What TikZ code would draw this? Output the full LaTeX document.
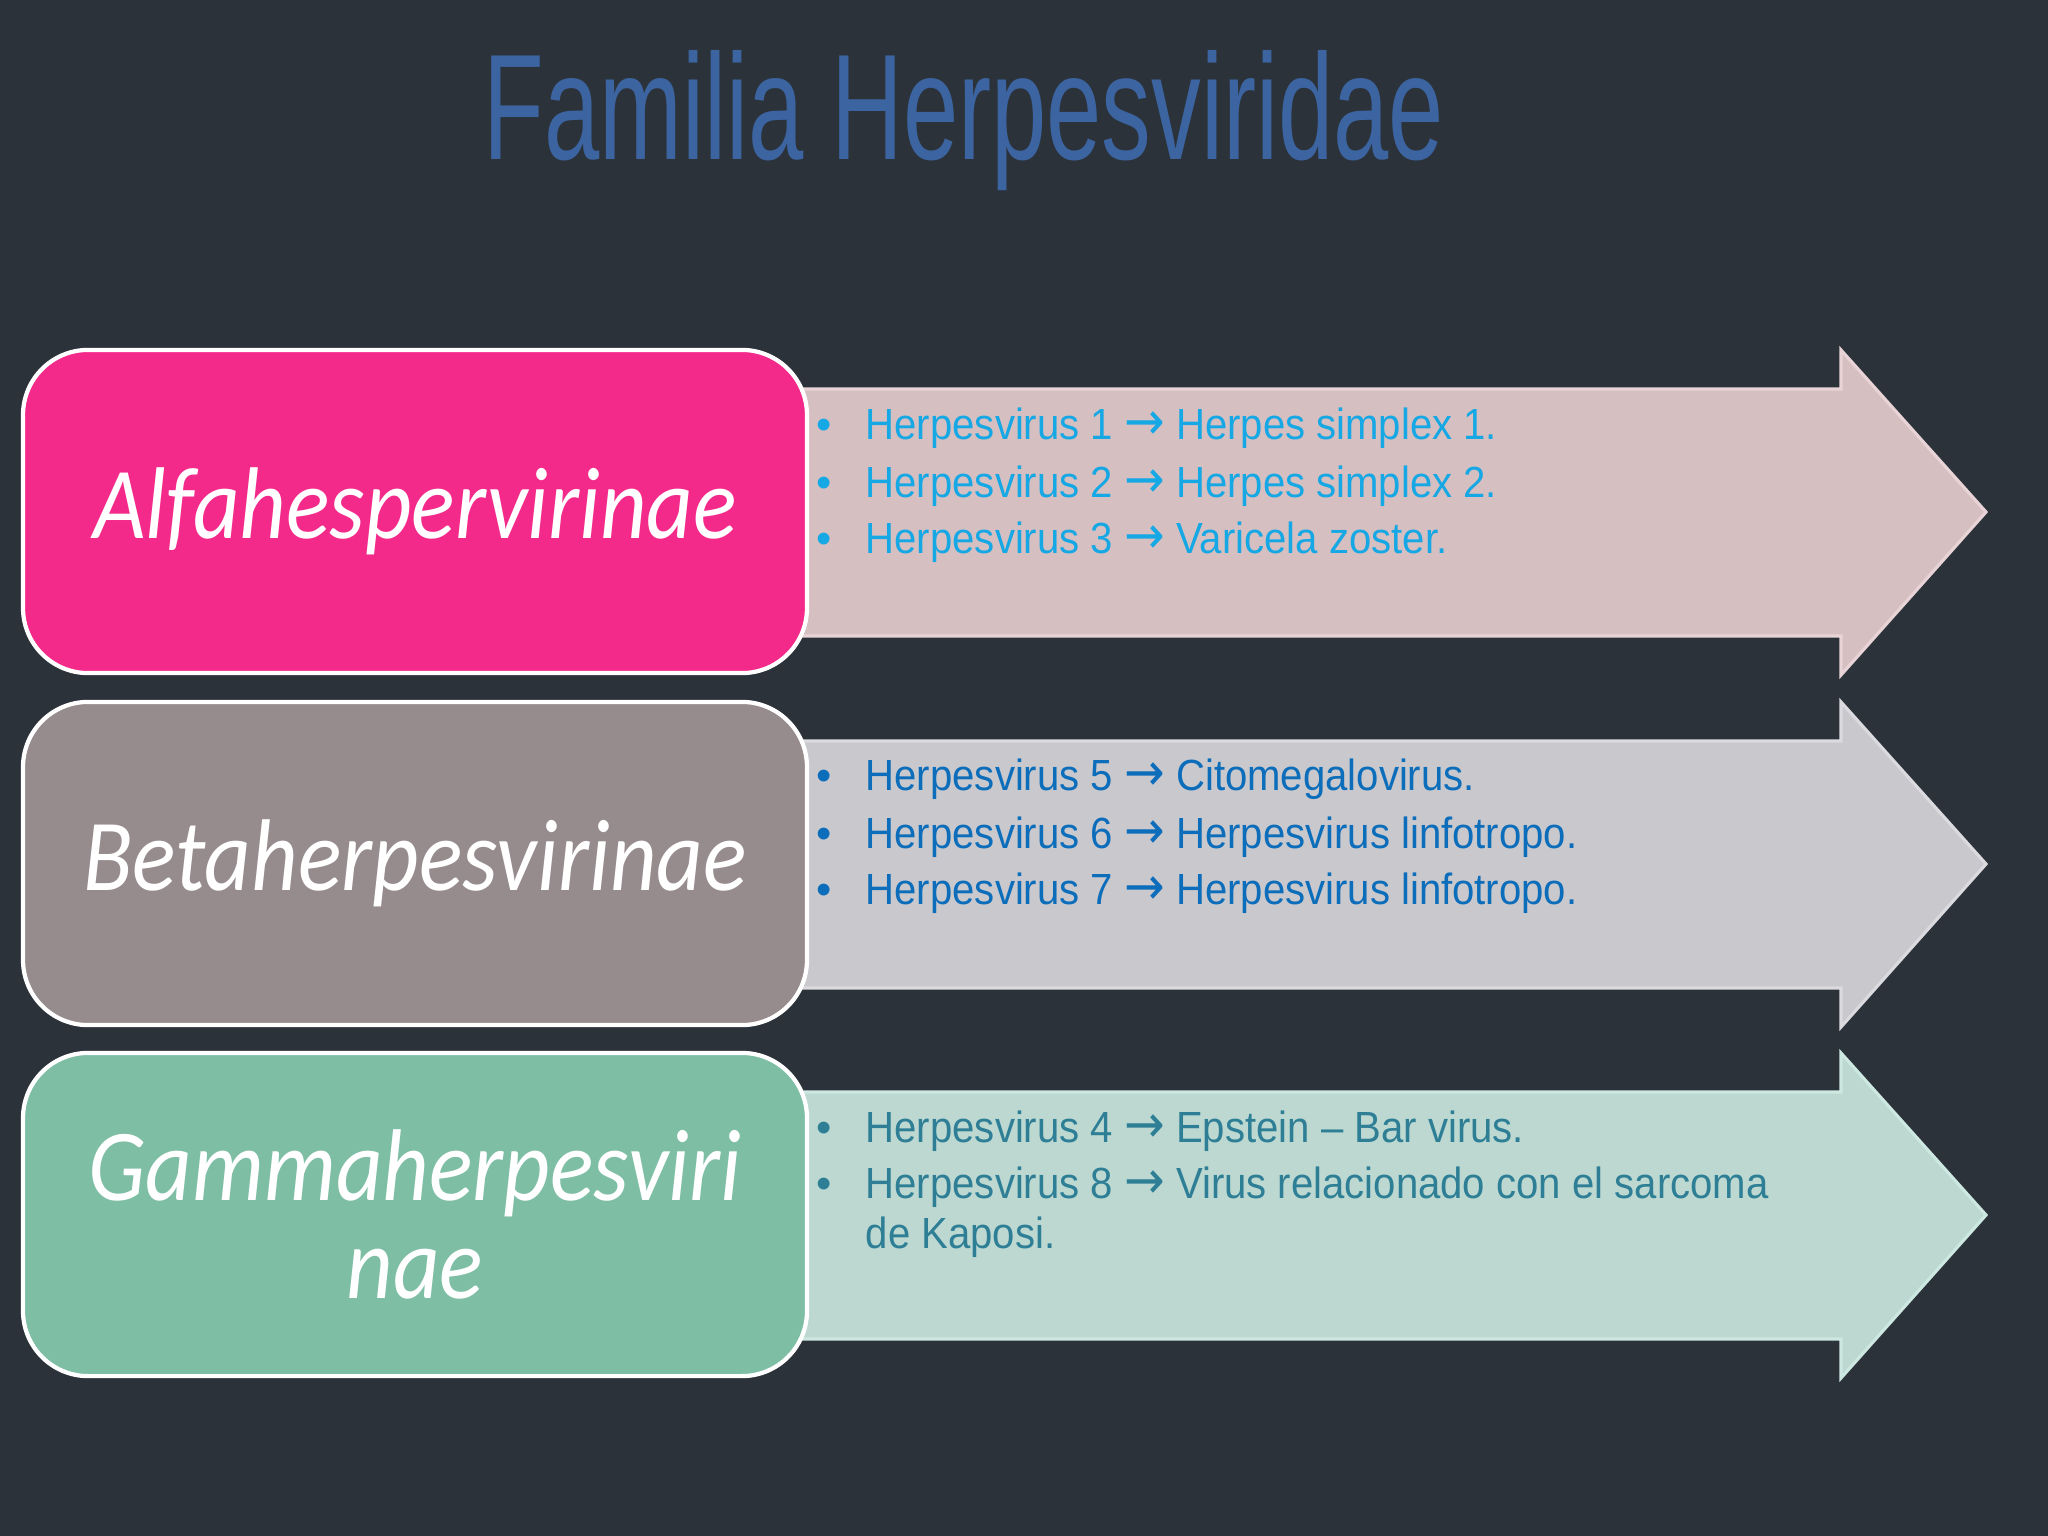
\documentclass[tikz,border=0pt]{standalone}
\usepackage{fontspec}
\setmainfont{Liberation Sans}
\newfontfamily\labfont{Carlito}
\newfontfamily\txtfont{Liberation Sans}
\newfontfamily\arrfont{DejaVu Sans}
\usepackage{graphicx}
\definecolor{bgc}{HTML}{2C323A}
\definecolor{titlec}{HTML}{3B64A0}
\definecolor{pinkbox}{HTML}{F42A8B}
\definecolor{graybox}{HTML}{968B8D}
\definecolor{greenbox}{HTML}{7DBEA5}
\definecolor{arrA}{HTML}{D6BFC1}
\definecolor{arrAe}{HTML}{E8D4D6}
\definecolor{arrB}{HTML}{C9C8CD}
\definecolor{arrBe}{HTML}{DADADF}
\definecolor{arrC}{HTML}{BCD8D1}
\definecolor{arrCe}{HTML}{CDE7E1}
\definecolor{txtA}{HTML}{16A8E4}
\definecolor{txtB}{HTML}{0C6DBA}
\definecolor{txtC}{HTML}{2E7F96}
\newcommand{\myarr}{{\arrfont\fontsize{15}{14}\selectfont →}}
\begin{document}
\begin{tikzpicture}[x=0.01cm,y=-0.01cm,
  catbox/.style={draw=white, line width=1.2pt, rounded corners=0.65cm,
    minimum width=7.835cm, minimum height=3.23cm, inner sep=0pt,
    text=white, align=center, font=\labfont\itshape\fontsize{29}{28}\selectfont},
  bigarrow/.style={line width=0.9pt, line join=miter},
  item/.style={anchor=base west, inner sep=0pt, font=\txtfont\fontsize{12.4}{14}\selectfont},
  bul/.style={anchor=base west, inner sep=0pt, font=\txtfont\fontsize{12.4}{14}\selectfont}
]
\fill[bgc] (0,0) rectangle (2048,1536);
\useasboundingbox (0,0) rectangle (2048,1536);

% title
\node[anchor=base west, inner sep=0pt, text=titlec] (title) at (483,159)
  {\resizebox{9.6cm}{1.09cm}{\txtfont Familia Herpesviridae}};

% arrows
\foreach \dy/\fc/\ec in {0/arrA/arrAe, 352/arrB/arrBe, 703/arrC/arrCe}{
  \draw[bigarrow, fill=\fc, draw=\ec]
    (780,389+\dy) -- (1841,389+\dy) -- (1841,350+\dy) -- (1986,512+\dy)
    -- (1841,675+\dy) -- (1841,636+\dy) -- (780,636+\dy) -- cycle;
}

% boxes
\node[catbox, fill=pinkbox] (alfa) at (415,511.5)
  {\scalebox{0.89}[1]{Alfahespervirinae}};
\node[catbox, fill=graybox] (beta) at (415,863.5)
  {\scalebox{0.89}[1]{Betaherpesvirinae}};
\node[catbox, fill=greenbox] (gamma) at (415,1214.5)
  {\scalebox{0.89}[1]{Gammaherpesviri}\\\scalebox{0.89}[1]{nae}};

% list A
\begin{scope}[text=txtA]
\node[bul] (ba1) at (816,439) {•};
\node[bul] (ba2) at (816,497) {•};
\node[bul] (ba3) at (816,553) {•};
\node[item] (a1) at (865,439) {\scalebox{0.92}[1]{Herpesvirus 1 \myarr\ Herpes simplex 1.}};
\node[item] (a2) at (865,497) {\scalebox{0.92}[1]{Herpesvirus 2 \myarr\ Herpes simplex 2.}};
\node[item] (a3) at (865,553) {\scalebox{0.92}[1]{Herpesvirus 3 \myarr\ Varicela zoster.}};
\end{scope}

% list B
\begin{scope}[text=txtB]
\node[bul] (bb1) at (816,790) {•};
\node[bul] (bb2) at (816,848) {•};
\node[bul] (bb3) at (816,904) {•};
\node[item] (b1) at (865,790) {\scalebox{0.92}[1]{Herpesvirus 5 \myarr\ Citomegalovirus.}};
\node[item] (b2) at (865,848) {\scalebox{0.92}[1]{Herpesvirus 6 \myarr\ Herpesvirus linfotropo.}};
\node[item] (b3) at (865,904) {\scalebox{0.92}[1]{Herpesvirus 7 \myarr\ Herpesvirus linfotropo.}};
\end{scope}

% list C
\begin{scope}[text=txtC]
\node[bul] (bc1) at (816,1142) {•};
\node[bul] (bc2) at (816,1198) {•};
\node[item] (c1) at (865,1142) {\scalebox{0.92}[1]{Herpesvirus 4 \myarr\ Epstein – Bar virus.}};
\node[item] (c2) at (865,1198) {\scalebox{0.92}[1]{Herpesvirus 8 \myarr\ Virus relacionado con el sarcoma}};
\node[item] (c3) at (865,1248) {\scalebox{0.92}[1]{de Kaposi.}};
\end{scope}
\end{tikzpicture}
\end{document}
